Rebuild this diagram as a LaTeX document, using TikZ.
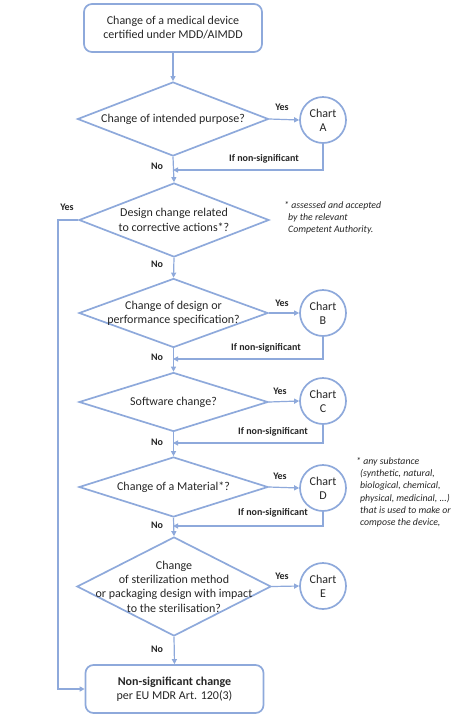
\documentclass[tikz,border=0pt]{standalone}
\usepackage{fontspec}
\setmainfont{Carlito}
\usetikzlibrary{shapes.geometric,arrows.meta}
\definecolor{lb}{HTML}{8EA9DB}
\definecolor{tx}{HTML}{262626}
\tikzset{
  shapeline/.style={draw=lb, line width=1.7pt},
  boxnode/.style={shapeline, rounded corners=8pt, minimum width=178pt, minimum height=48pt, inner sep=0pt, align=center, font=\fontsize{12}{14}\selectfont, text=tx},
  dia/.style={shapeline, shape=diamond, inner sep=0pt},
  diatext/.style={align=center, font=\fontsize{12}{14.3}\selectfont, text=tx, inner sep=0pt},
  chart/.style={shapeline, circle, minimum size=46pt, inner sep=0pt, align=center, font=\fontsize{12}{14}\selectfont, text=tx},
  conn/.style={draw=lb, line width=1.2pt, -{Triangle[length=5pt,width=5pt]}},
  lab/.style={font=\fontsize{10}{12}\selectfont\bfseries, text=tx, inner sep=0pt},
  note/.style={font=\fontsize{9.8}{12.3}\selectfont\itshape, text=tx, align=left, inner sep=0pt, anchor=north west},
}
\begin{document}
\begin{tikzpicture}[x=1pt,y=-1pt]
\useasboundingbox (0,0) rectangle (474,724);

\node[boxnode] (top) at (173,28) {Change of a medical device\\certified under MDD/AIMDD};

\node[dia, minimum width=191pt, minimum height=74pt] (d1) at (173,119) {};
\node[diatext] (t1) at (d1.center) {Change of intended purpose?};
\node[dia, minimum width=190pt, minimum height=74pt] (d2) at (174,220) {};
\node[diatext] (t2) at (d2.center) {Design change related\\to corrective actions*?};
\node[dia, minimum width=189pt, minimum height=69pt] (d3) at (173.5,313) {};
\node[diatext] (t3) at (d3.center) {Change of design or\\performance specification?};
\node[dia, minimum width=189pt, minimum height=59pt] (d4) at (173.5,402) {};
\node[diatext] (t4) at (d4.center) {Software change?};
\node[dia, minimum width=189pt, minimum height=60pt] (d5) at (173.5,487) {};
\node[diatext] (t5) at (d5.center) {Change of a Material*?};
\node[dia, minimum width=194pt, minimum height=99pt] (d6) at (174,586.5) {};
\node[diatext] (t6) at (d6.center) {Change\\of sterilization method\\or packaging design with impact\\to the sterilisation?};

\node[boxnode] (bot) at (174.5,689) {\textbf{Non-significant change}\\per EU MDR Art. 120(3)};

\node[chart] (ca) at (323,120) {Chart\\A};
\node[chart] (cb) at (323,313) {Chart\\B};
\node[chart] (cc) at (323,401) {Chart\\C};
\node[chart] (cd) at (323,488) {Chart\\D};
\node[chart] (ce) at (323,586) {Chart\\E};

\coordinate (fa) at (173,170);
\coordinate (fb) at (173,359);
\coordinate (fc) at (173,443);
\coordinate (fd) at (173,526);
\coordinate (ly) at (58,220);

% main spine
\draw[conn] (top.south) -- (d1.north);
\draw[conn] (d1.south) -- (d2.north);
\draw[conn] (d2.south) -- (d3.north);
\draw[conn] (d3.south) -- (d4.north);
\draw[conn] (d4.south) -- (d5.north);
\draw[conn] (d5.south) -- (d6.north);
\draw[conn] (d6.south) -- (bot.north);

% yes to charts
\draw[conn] (d1.east) -- (ca.west);
\draw[conn] (d3.east) -- (cb.west);
\draw[conn] (d4.east) -- (cc.west);
\draw[conn] (d5.east) -- (cd.west);
\draw[conn] (d6.east) -- (ce.west);

% feedback
\draw[conn] (ca.south) |- (fa);
\draw[conn] (cb.south) |- (fb);
\draw[conn] (cc.south) |- (fc);
\draw[conn] (cd.south) |- (fd);

% left yes loop
\draw[conn] (d2.west) -- (ly) |- (bot.west);

% labels
\node[lab] (y1) at (282,107) {Yes};
\node[lab] (y3) at (282,303) {Yes};
\node[lab] (y4) at (280,391) {Yes};
\node[lab] (y5) at (280,476) {Yes};
\node[lab] (y6) at (282,576) {Yes};
\node[lab] (y2) at (67,207) {Yes};

\node[lab] (n1) at (157,166) {No};
\node[lab] (n2) at (157,264) {No};
\node[lab] (n3) at (157,357) {No};
\node[lab] (n4) at (157,442) {No};
\node[lab] (n5) at (157,525) {No};
\node[lab] (n6) at (157,649) {No};

\node[lab] (i1) at (264,159) {If non-significant};
\node[lab] (i3) at (266,348) {If non-significant};
\node[lab] (i4) at (273,432) {If non-significant};
\node[lab] (i5) at (273,513) {If non-significant};

\node[note] (note1) at (284,201) {* assessed and accepted\\\hspace*{4pt}by the relevant\\\hspace*{4pt}Competent Authority.};
\node[note] (note2) at (356,457) {* any substance\\\hspace*{4pt}(synthetic, natural,\\\hspace*{4pt}biological, chemical,\\\hspace*{4pt}physical, medicinal, ...)\\\hspace*{4pt}that is used to make or\\\hspace*{4pt}compose the device,};
\end{tikzpicture}
\end{document}
